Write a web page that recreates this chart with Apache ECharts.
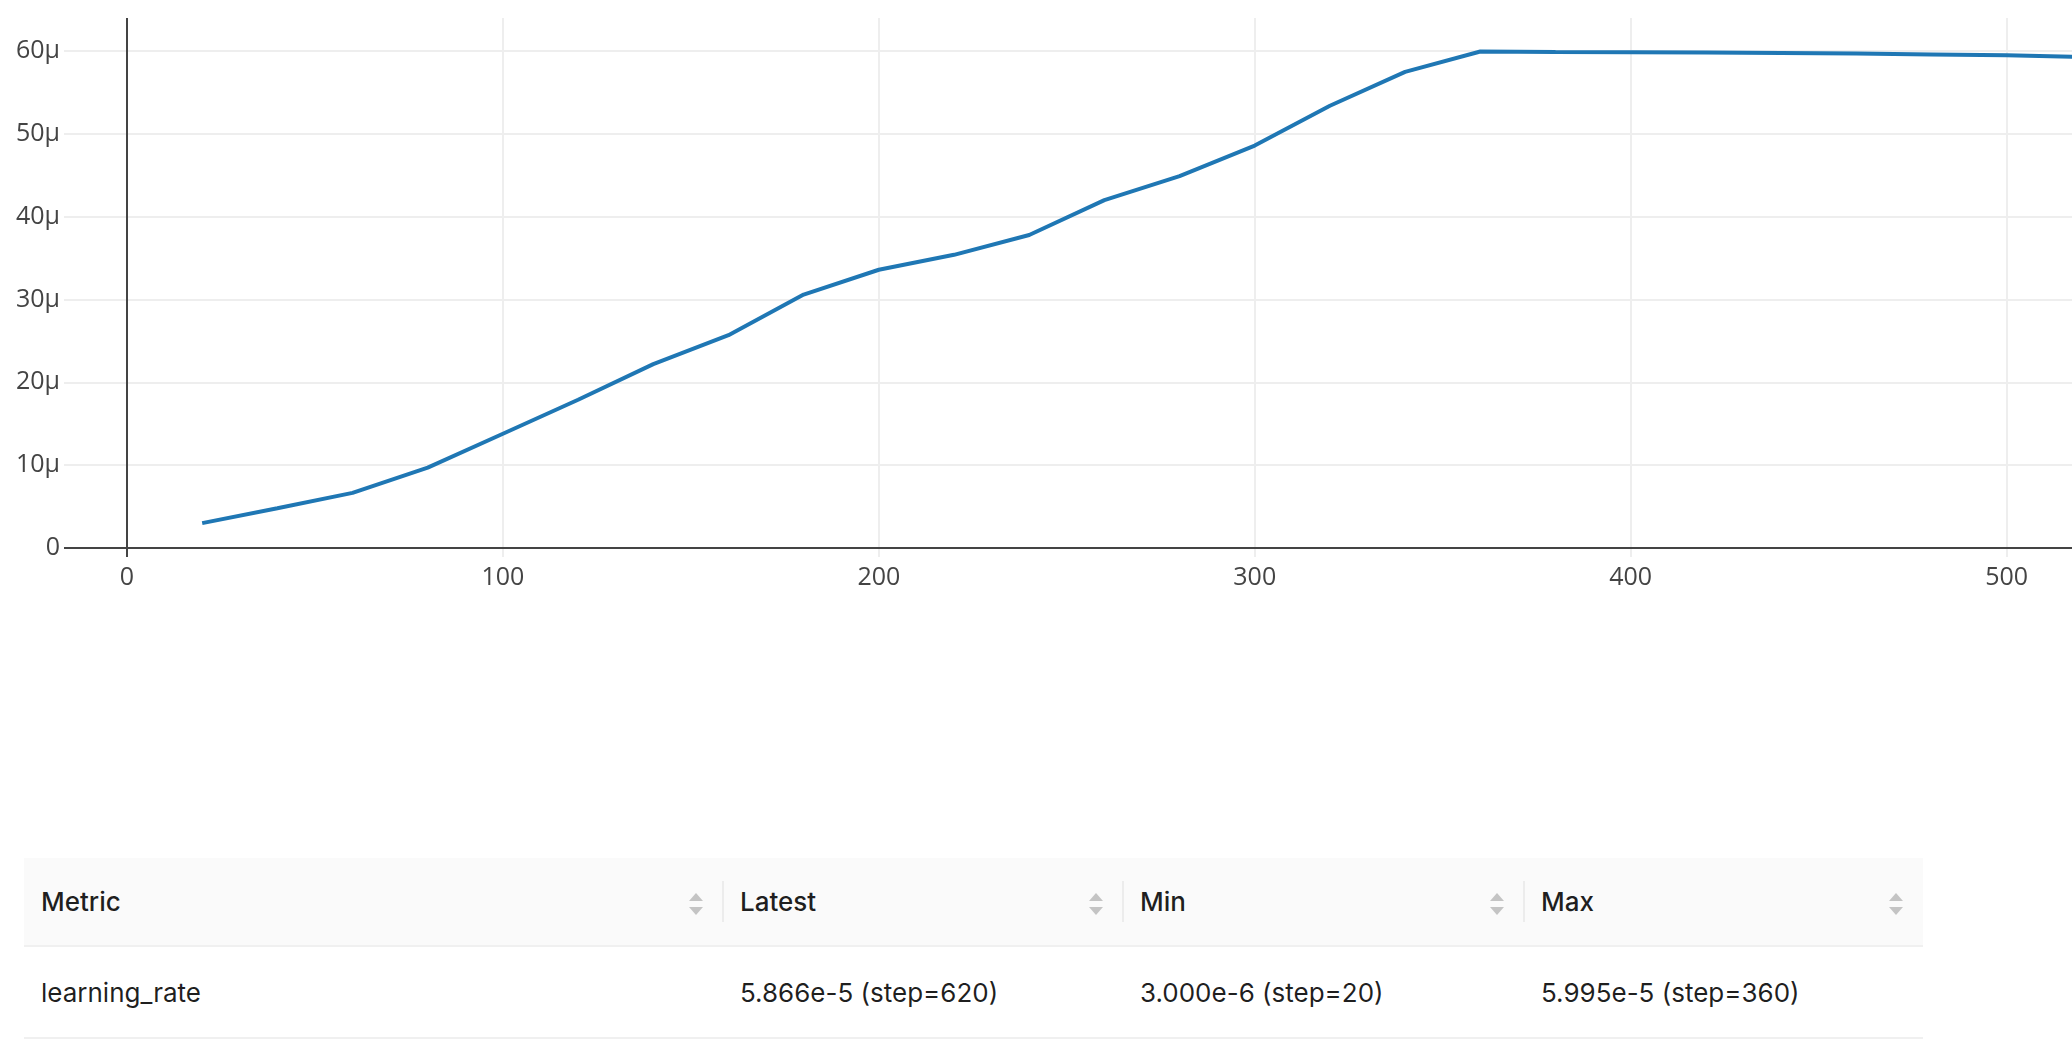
<!DOCTYPE html>
<html>
<head>
<meta charset="utf-8">
<script src="https://cdn.jsdelivr.net/npm/echarts@6/dist/echarts.min.js"></script>
<style>
  html, body { margin: 0; padding: 0; background: #fff; width: 2072px; height: 1050px; overflow: hidden; }
  #chart { position: absolute; left: 0; top: 0; width: 2072px; height: 640px; }
  .tbl { position: absolute; font-family: Inter, "Noto Sans", sans-serif; font-size: 26px; color: rgba(0,0,0,0.88); }
  .hdr { position: absolute; left: 24px; top: 858px; width: 1899px; height: 87px; background: #fafafa; border-bottom: 2px solid #f0f0f0; }
  .row { position: absolute; left: 24px; top: 947px; width: 1899px; height: 90px; background: #fff; border-bottom: 2px solid #f0f0f0; }
  .cell { position: absolute; top: 0; height: 100%; display: flex; align-items: center; padding-left: 17px; box-sizing: border-box; white-space: nowrap; }
  .hdr .cell { font-weight: 500; }
  .sep { position: absolute; top: 23px; width: 2px; height: 41px; background: #ececec; }
  .sort { position: absolute; top: 33px; width: 16px; height: 24px; }
</style>
</head>
<body>
<div id="chart"></div>
<div class="tbl">
  <div class="hdr" id="hdr"></div>
  <div class="row" id="row"></div>
</div>
<script>
// ---- data ----
const steps = [20, 40, 60, 80, 100, 120, 140, 160, 180, 200, 220, 240, 260, 280, 300, 320, 340, 360, 380, 400, 420, 440, 460, 480, 500, 520];
const learningRate = [3.0e-6, 4.8e-6, 6.65e-6, 9.7e-6, 13.8e-6, 17.9e-6, 22.2e-6, 25.7e-6, 30.6e-6, 33.6e-6, 35.4e-6, 37.8e-6, 42.0e-6, 44.9e-6, 48.6e-6, 53.4e-6, 57.5e-6, 59.95e-6, 59.9e-6, 59.86e-6, 59.82e-6, 59.76e-6, 59.7e-6, 59.6e-6, 59.5e-6, 59.3e-6];
const xTicks = [0, 100, 200, 300, 400, 500];
const yTicks = [0, 10e-6, 20e-6, 30e-6, 40e-6, 50e-6, 60e-6];
const tableHeaders = ["Metric", "Latest", "Min", "Max"];
const tableRow = ["learning_rate", "5.866e-5 (step=620)", "3.000e-6 (step=20)", "5.995e-5 (step=360)"];

// ---- chart ----
const chart = echarts.init(document.getElementById('chart'), null, { renderer: 'canvas' });
const fmtY = v => (Math.abs(v) < 1e-12 ? '0' : Math.round(v * 1e6) + 'µ');
chart.setOption({
  animation: false,
  grid: { left: 64, right: 0, top: 18, height: 539, containLabel: false },
  xAxis: {
    type: 'value', min: -16.76, max: 517.4,
    axisLine: { show: false },
    axisTick: { show: false, customValues: xTicks },
    axisLabel: { customValues: xTicks, margin: 8, color: '#444', fontFamily: '"Open Sans"', fontSize: 25 },
    splitLine: { show: true, lineStyle: { color: '#eeeeee', width: 2 } }
  },
  yAxis: {
    type: 'value', min: -1.09e-6, max: 64.0e-6,
    axisLine: { show: false },
    axisTick: { show: false, customValues: yTicks },
    axisLabel: { customValues: yTicks, margin: 4, color: '#444', fontFamily: '"Open Sans"', fontSize: 25, formatter: fmtY },
    splitLine: { show: true, lineStyle: { color: '#eeeeee', width: 2 } }
  },
  series: [{
    type: 'line',
    data: steps.map((s, i) => [s, learningRate[i]]),
    showSymbol: false,
    lineStyle: { color: '#1f77b4', width: 4 },
    itemStyle: { color: '#1f77b4' },
    clip: true,
    markLine: {
      silent: true, symbol: 'none', animation: false,
      label: { show: false },
      lineStyle: { color: '#444', width: 2, type: 'solid' },
      data: [{ xAxis: 0 }, { yAxis: 0 }]
    }
  }]
});

// ---- table ----
const colLeft = [0, 699, 1099, 1500];
const colRight = [699, 1099, 1500, 1899];
const hdr = document.getElementById('hdr');
const row = document.getElementById('row');
const sortSvg = '<svg width="16" height="24" viewBox="0 0 16 24"><polygon points="8,1 15,9 1,9" fill="#c4c4c4"/><polygon points="1,15 15,15 8,23" fill="#c4c4c4"/></svg>';
tableHeaders.forEach((h, i) => {
  const c = document.createElement('div');
  c.className = 'cell';
  c.style.left = colLeft[i] + 'px';
  c.style.width = (colRight[i] - colLeft[i]) + 'px';
  c.textContent = h;
  hdr.appendChild(c);
  const s = document.createElement('div');
  s.className = 'sort';
  s.style.left = (colRight[i] - 35) + 'px';
  s.innerHTML = sortSvg;
  hdr.appendChild(s);
  if (i < tableHeaders.length - 1) {
    const sp = document.createElement('div');
    sp.className = 'sep';
    sp.style.left = (colRight[i] - 1) + 'px';
    hdr.appendChild(sp);
  }
});
tableRow.forEach((t, i) => {
  const c = document.createElement('div');
  c.className = 'cell';
  c.style.left = colLeft[i] + 'px';
  c.style.width = (colRight[i] - colLeft[i]) + 'px';
  c.textContent = t;
  row.appendChild(c);
});
</script>
</body>
</html>
